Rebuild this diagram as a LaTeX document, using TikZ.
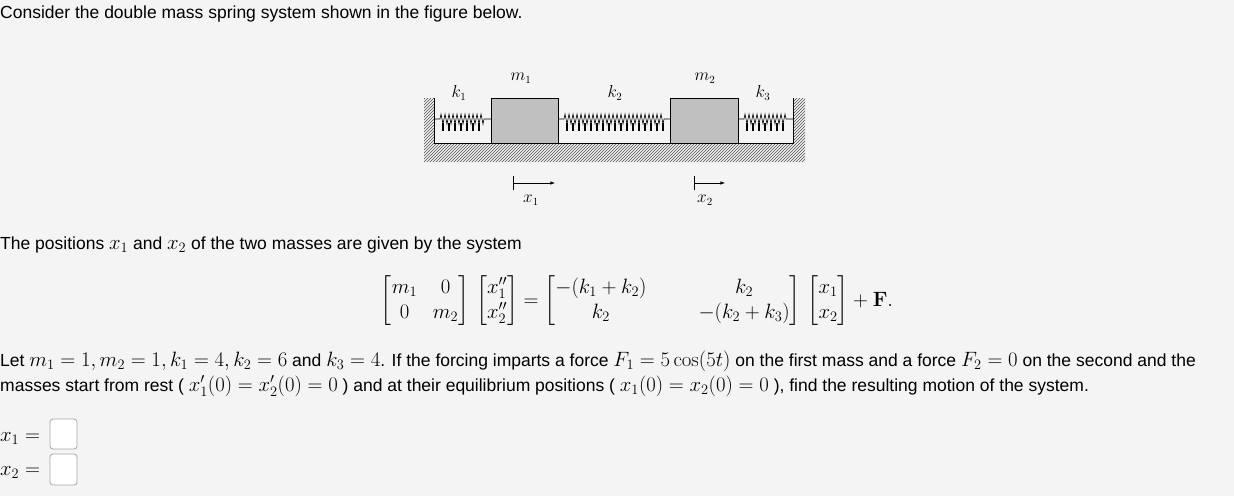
\documentclass[tikz,border=0pt]{standalone}
\usepackage{amsmath}
\usepackage[no-math]{fontspec}
\setmainfont{Liberation Sans}
\usetikzlibrary{patterns}
\usetikzlibrary{decorations.pathmorphing}
\definecolor{pagebg}{HTML}{F4F4F4}
\definecolor{massgray}{HTML}{C0C0C0}
\newcommand{\mth}[1]{{\fontsize{21.5}{22}\selectfont$#1$}}

\begin{document}
\begin{tikzpicture}[x=1pt,y=-1pt,
    txt/.style={anchor=base west,inner sep=0pt,font=\fontsize{17.5}{21}\selectfont},
    lbl/.style={inner sep=0pt,font=\fontsize{16}{18}\selectfont},
    mass/.style={draw,fill=massgray,line width=.8pt},
    ansbox/.style={draw=gray!70,fill=white,rounded corners=3pt,line width=.8pt}]
  \useasboundingbox[fill=pagebg] (0,0) rectangle (1234,496);
  \clip (0,0) rectangle (1234,496);
  % ground and walls
  \fill[pattern=north east lines,pattern color=black!70]
    (424,98) -- (434,98) -- (434,143) -- (793,143) -- (793,98) -- (805,98)
    -- (805,162) -- (424,162) -- cycle;
  \draw[line width=.8pt] (434,98) -- (434,143) -- (793,143) -- (793,98);
  % springs
  \foreach \a/\b in {434/491,558/670,738/793}{
    \draw[line width=.6pt] (\a,119) -- ++(6,0)
      decorate[decoration={zigzag,segment length=4pt,amplitude=5pt}]{-- (\b-6,119)}
      -- (\b,119);
    \pgfmathsetmacro{\n}{int((\b-\a-16)/6)}
    \foreach \i in {0,...,\n}
      \draw[line width=1.3pt] (\a+9+6*\i,123) -- ++(0,8);
  }
  % masses
  \node[mass,minimum width=67pt,minimum height=45pt,inner sep=0pt] (m1box) at (524.5,120.5) {};
  \node[mass,minimum width=68pt,minimum height=45pt,inner sep=0pt] (m2box) at (704,120.5) {};
  \node[lbl] (m1) at (521,78) {$m_1$};
  \node[lbl] (m2) at (705,78) {$m_2$};
  \node[lbl] (k1) at (459,93) {$k_1$};
  \node[lbl] (k2) at (615,93) {$k_2$};
  \node[lbl] (k3) at (763,93) {$k_3$};
  % displacement arrows
  \coordinate (x1s) at (513,183);
  \coordinate (x2s) at (694,183);
  \draw[line width=.6pt] (513,176) -- (513,190);
  \draw[line width=.6pt] (694,176) -- (694,190);
  \draw[line width=.6pt,-latex] (x1s) -- (555,183);
  \draw[line width=.6pt,-latex] (x2s) -- (725,183);
  \node[lbl] (x1) at (531,200) {$x_1$};
  \node[lbl] (x2) at (705,200) {$x_2$};
  % text
  \node[txt] (intro) at (0,18) {Consider the double mass spring system shown in the figure below.};
  \node[txt] (pos) at (0,249) {The positions \mth{x_1} and \mth{x_2} of the two masses are given by the system};
  \node[inner sep=0pt,font=\fontsize{21}{25}\selectfont] (eq) at (637,301)
    {$\begin{bmatrix} m_1 & \;0\\ 0 & \;m_2\end{bmatrix}\,
      \begin{bmatrix} x_1''\\ x_2''\end{bmatrix}
      =\begin{bmatrix} -(k_1+k_2) & \qquad k_2\\ k_2 & \qquad -(k_2+k_3)\end{bmatrix}\,
      \begin{bmatrix} x_1\\ x_2\end{bmatrix}+\mathbf{F}.$};
  \node[txt] (let1) at (0,366) {Let \mth{m_1=1, m_2=1, k_1=4, k_2=6} and \mth{k_3=4}. If the forcing imparts a force \mth{F_1=5\cos(5t)} on the first mass and a force \mth{F_2=0} on the second and the};
  \node[txt] (let2) at (0,391) {masses start from rest ( \mth{x_1'(0)=x_2'(0)=0} ) and at their equilibrium positions ( \mth{x_1(0)=x_2(0)=0} ), find the resulting motion of the system.};
  \node[txt] (a1) at (0,441) {\mth{x_1=}};
  \node[txt] (a2) at (0,475) {\mth{x_2=}};
  \draw[ansbox] (50,419) rectangle (77,449);
  \draw[ansbox] (50,454) rectangle (77,485);
\end{tikzpicture}
\end{document}
